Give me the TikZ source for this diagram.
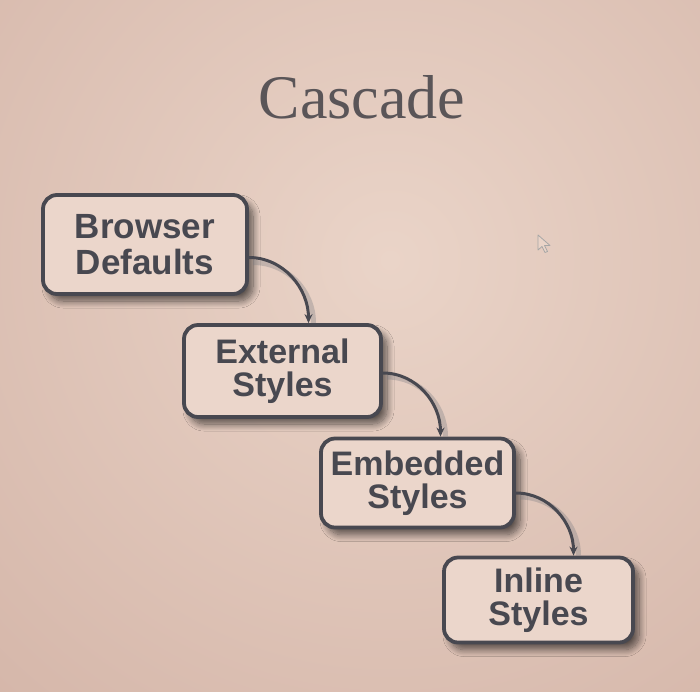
\documentclass[tikz,border=0pt]{standalone}
\usepackage{fontspec}
\setmainfont{Liberation Serif}
\newfontfamily\boxfont{Liberation Sans}
\usetikzlibrary{shadows.blur,arrows.meta,calc}
\definecolor{bgout}{HTML}{D4B5A8}
\definecolor{bgin}{HTML}{EAD4C8}
\definecolor{boxfill}{HTML}{EBD6CB}
\definecolor{ink}{HTML}{484850}
\definecolor{titleink}{HTML}{5A5558}
\tikzset{
  stepbox/.style={draw=ink, line width=3.8pt, fill=boxfill, rounded corners=14pt,
    align=center, text=ink, inner sep=0pt,
    font=\boxfont\bfseries\fontsize{34}{33}\selectfont,
    blur shadow={shadow xshift=6pt, shadow yshift=-7pt, shadow blur radius=7pt, shadow blur steps=12, shadow opacity=60}},
  flow/.style={draw=ink, line width=3pt, -{Stealth[length=9pt,width=8pt]}},
  flowshadow/.style={draw=ink!70, line width=5pt, opacity=0.35},
}
\begin{document}
\begin{tikzpicture}[x=1pt,y=-1pt]
\useasboundingbox (0,0) rectangle (700,691);
\fill[bgout] (0,0) rectangle (700,691);
\begin{scope}
\clip (0,0) rectangle (700,691);
\shade[inner color=bgin, outer color=bgout] (390,260) circle (620);
\end{scope}
\node[text=titleink, font=\fontsize{62}{62}\selectfont] (title) at (362,97) {Cascade};
\node[stepbox, minimum width=204pt, minimum height=99pt, font=\boxfont\bfseries\fontsize{35}{36}\selectfont] (b1) at (145,244.5) {Browser\\Defaults};
\node[stepbox, minimum width=197pt, minimum height=92pt] (b2) at (282.5,371) {External\\Styles};
\node[stepbox, minimum width=193pt, minimum height=89pt] (b3) at (417.5,483) {Embedded\\Styles};
\node[stepbox, minimum width=189pt, minimum height=85pt] (b4) at (538.5,600) {Inline\\Styles};
% connector shadows
\draw[flowshadow] ($(b1.east)+(4,18)$) to[out=0,in=90] ($(b2.north)+(31,0)$);
\draw[flowshadow] ($(b2.east)+(4,6)$) to[out=0,in=90] ($(b3.north)+(28,0)$);
\draw[flowshadow] ($(b3.east)+(4,14)$) to[out=0,in=90] ($(b4.north)+(40,0)$);
% connectors
\draw[flow] ($(b1.east)+(0,13)$) to[out=0,in=90] ($(b2.north)+(26,0)$);
\draw[flow] ($(b2.east)+(0,2)$) to[out=0,in=90] ($(b3.north)+(23,0)$);
\draw[flow] ($(b3.east)+(0,10)$) to[out=0,in=90] ($(b4.north)+(35,0)$);
% mouse pointer
\draw[draw=gray!70, line width=0.8pt, fill=bgin, line join=round] (538,235) -- (538,250) -- (542,246.5) -- (545,252.5) -- (547.5,251.5) -- (544.5,245.5) -- (550,245.5) -- cycle;
\end{tikzpicture}
\end{document}
